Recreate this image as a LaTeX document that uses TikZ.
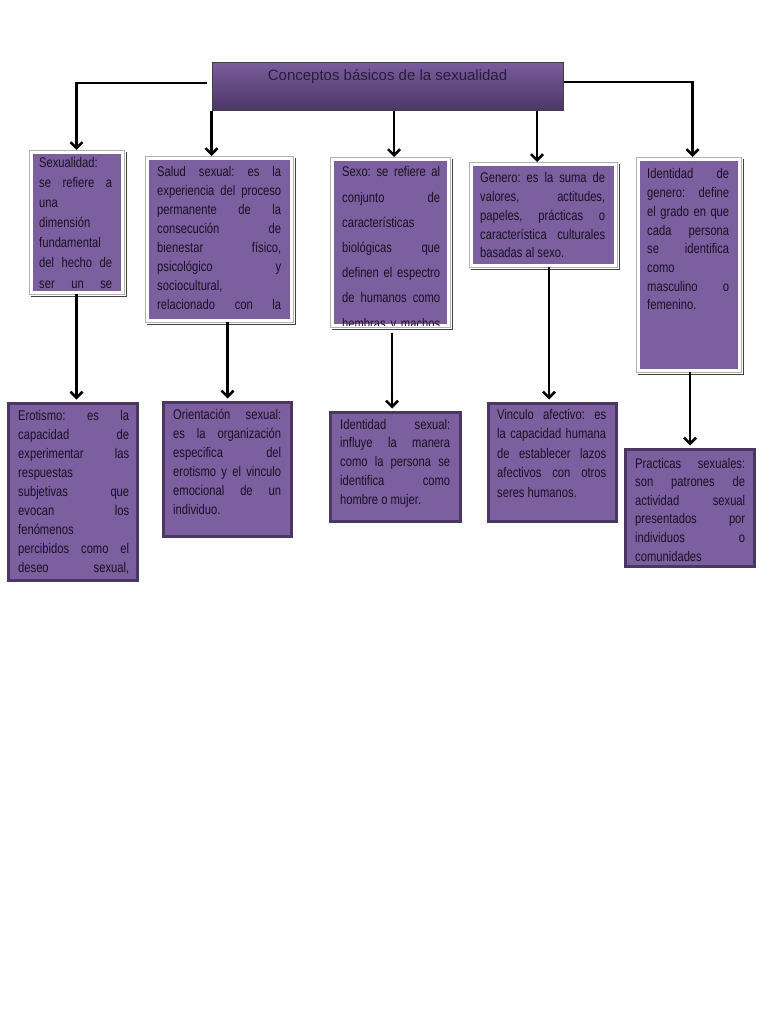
\documentclass[tikz,border=0pt]{standalone}
\usepackage{fontspec}
\setmainfont{Liberation Sans}
\newfontfamily\narrowfont[FakeStretch=0.8]{Liberation Sans}
\usetikzlibrary{arrows.meta,calc}
\definecolor{boxfill}{HTML}{7C5F9F}
\definecolor{boxborder}{HTML}{4A3763}
\definecolor{titletop}{HTML}{7A5C9C}
\definecolor{titlebot}{HTML}{4B3566}
\definecolor{titletext}{HTML}{2A1C3C}
\definecolor{textcol}{HTML}{1A1024}
\newcommand\lbk{\linebreak}
\newcommand\fullln[1]{\makebox[\linewidth][s]{#1}}
\tolerance=10000
\hbadness=10000
\hfuzz=20pt
\begin{document}
\begin{tikzpicture}[x=1pt,y=-1pt,
  topbox/.style={rectangle, inner sep=0pt, fill=boxfill, draw=white, line width=3pt,
                 preaction={draw=black!30, line width=5pt}},
  botbox/.style={rectangle, inner sep=0pt, fill=boxfill, draw=boxborder, line width=3pt},
  titlebox/.style={rectangle, inner sep=0pt, top color=titletop, bottom color=titlebot, draw=black!75, line width=1pt},
  shadowline/.style={draw=black!75, line width=1.2pt},
  txt/.style={anchor=base west, inner sep=0pt, align=justify, text=textcol,
              font=\narrowfont\fontsize{14}{#1}\selectfont},
  txt/.default=19,
  conn/.style={draw=black, line width=2.5pt, -{Straight Barb[length=6pt,width=12pt]}, shorten >=1.5pt},
]
\useasboundingbox (0,0) rectangle (768,1024);
\fill[white] (0,0) rectangle (768,1024);

% title
\node[titlebox, minimum width=351pt, minimum height=48pt] (title) at (387.5,87) {};
\node[anchor=base, inner sep=0pt, text=titletext, font=\fontsize{15}{18}\selectfont] (ttl) at (387.5,81) {Conceptos básicos de la sexualidad};

% top boxes
\node[topbox, minimum width=91pt,  minimum height=139pt] (b1) at (76.5,222.5) {};
\node[topbox, minimum width=144pt, minimum height=161pt] (b2) at (219,239.5) {};
\node[topbox, minimum width=116pt, minimum height=165pt] (b3) at (390,242.5) {};
\node[topbox, minimum width=144pt, minimum height=100pt] (b4) at (543,215) {};
\node[topbox, minimum width=101pt, minimum height=210pt] (b5) at (688.5,265) {};

\foreach \b in {b1,b2,b3,b4,b5}{
  \draw[shadowline] ($(\b.south west)+(1,3)$) -- ($(\b.south east)+(3,3)$) -- ($(\b.north east)+(3,1)$);
}

% bottom boxes
\node[botbox, minimum width=129pt, minimum height=177pt] (b6) at (73,492) {};
\node[botbox, minimum width=128pt, minimum height=134pt] (b7) at (227.5,469.5) {};
\node[botbox, minimum width=130pt, minimum height=109pt] (b8) at (395.5,467) {};
\node[botbox, minimum width=128pt, minimum height=118pt] (b9) at (552.5,462.5) {};
\node[botbox, minimum width=129pt, minimum height=117pt] (b10) at (690,508) {};

% texts top
\node[txt=20, text width=73pt] (t1) at (39,168)
 {Sexualidad:\lbk se~refiere~a\lbk una\lbk dimensión\lbk fundamental\lbk del~hecho~de\lbk \fullln{ser un se}};
\node[txt=19, text width=124pt] (t2) at (157,177)
 {Salud~sexual:~es~la\lbk experiencia~del~proceso\lbk permanente~de~la\lbk consecución~de\lbk bienestar~físico,\lbk psicológico~y\lbk sociocultural,\lbk \fullln{relacionado con la}};
\begin{scope}
\clip ($(b3.north west)+(1.5,1.5)$) rectangle ($(b3.south east)+(-1.5,-1.5)$);
\node[txt=25.2, text width=98pt] (t3) at (342,177)
 {Sexo:~se~refiere~al\lbk conjunto~de\lbk características\lbk biológicas~que\lbk definen~el~espectro\lbk de~humanos~como\lbk \fullln{hembras y machos}};
\end{scope}
\node[txt=18.75, text width=125pt] (t4) at (480,183)
 {Genero:~es~la~suma~de\lbk valores,~actitudes,\lbk papeles,~prácticas~o\lbk característica~culturales\lbk basadas~al~sexo.};
\node[txt=18.7, text width=82pt] (t5) at (647,179)
 {Identidad~de\lbk genero:~define\lbk el~grado~en~que\lbk cada~persona\lbk se~identifica\lbk como\lbk masculino~o\lbk femenino.};

% texts bottom
\node[txt=19, text width=111pt] (t6) at (18,420)
 {Erotismo:~es~la\lbk capacidad~de\lbk experimentar~las\lbk respuestas\lbk subjetivas~que\lbk evocan~los\lbk fenómenos\lbk percibidos~como~el\lbk \fullln{deseo sexual,}};
\node[txt=19, text width=108pt] (t7) at (173,419)
 {Orientación~sexual:\lbk es~la~organización\lbk especifica~del\lbk erotismo~y~el~vinculo\lbk emocional~de~un\lbk individuo.};
\node[txt=18.75, text width=110pt] (t8) at (340,429)
 {Identidad~sexual:\lbk influye~la~manera\lbk como~la~persona~se\lbk identifica~como\lbk hombre~o~mujer.};
\node[txt=19.5, text width=109pt] (t9) at (497,419)
 {Vinculo~afectivo:~es\lbk la~capacidad~humana\lbk de~establecer~lazos\lbk afectivos~con~otros\lbk seres~humanos.};
\node[txt=18.6, text width=110pt] (t10) at (635,468)
 {Practicas~sexuales:\lbk son~patrones~de\lbk actividad~sexual\lbk presentados~por\lbk individuos~o\lbk comunidades};

% connectors from title
\draw[conn] ([xshift=-5pt,yshift=4pt]title.west) -| (b1.north);
\draw[conn] (title.south west) -- (title.south west |- b2.north);
\draw[conn] ([xshift=4pt]b3.north |- title.south) -- ([xshift=4pt]b3.north);
\draw[conn] ([xshift=-6pt]b4.north |- title.south) -- ([xshift=-6pt]b4.north);
\draw[conn] ([yshift=5pt]title.east) -| ([xshift=4pt]b5.north);

% connectors to lower boxes
\draw[conn, shorten >=2.5pt] (b1.south) -- (b1.south |- b6.north);
\draw[conn, shorten >=2.5pt] (b7.north |- b2.south) -- (b7.north);
\draw[conn, shorten >=2.5pt] ([xshift=2pt,yshift=-6pt]b3.south) -- ([xshift=2pt]b3.south |- b8.north);
\draw[conn, shorten >=2.5pt] ([xshift=-3.5pt]b9.north |- b4.south) -- ([xshift=-3.5pt]b9.north);
\draw[conn, shorten >=2.5pt] (b10.north |- b5.south) -- (b10.north);
\end{tikzpicture}
\end{document}
